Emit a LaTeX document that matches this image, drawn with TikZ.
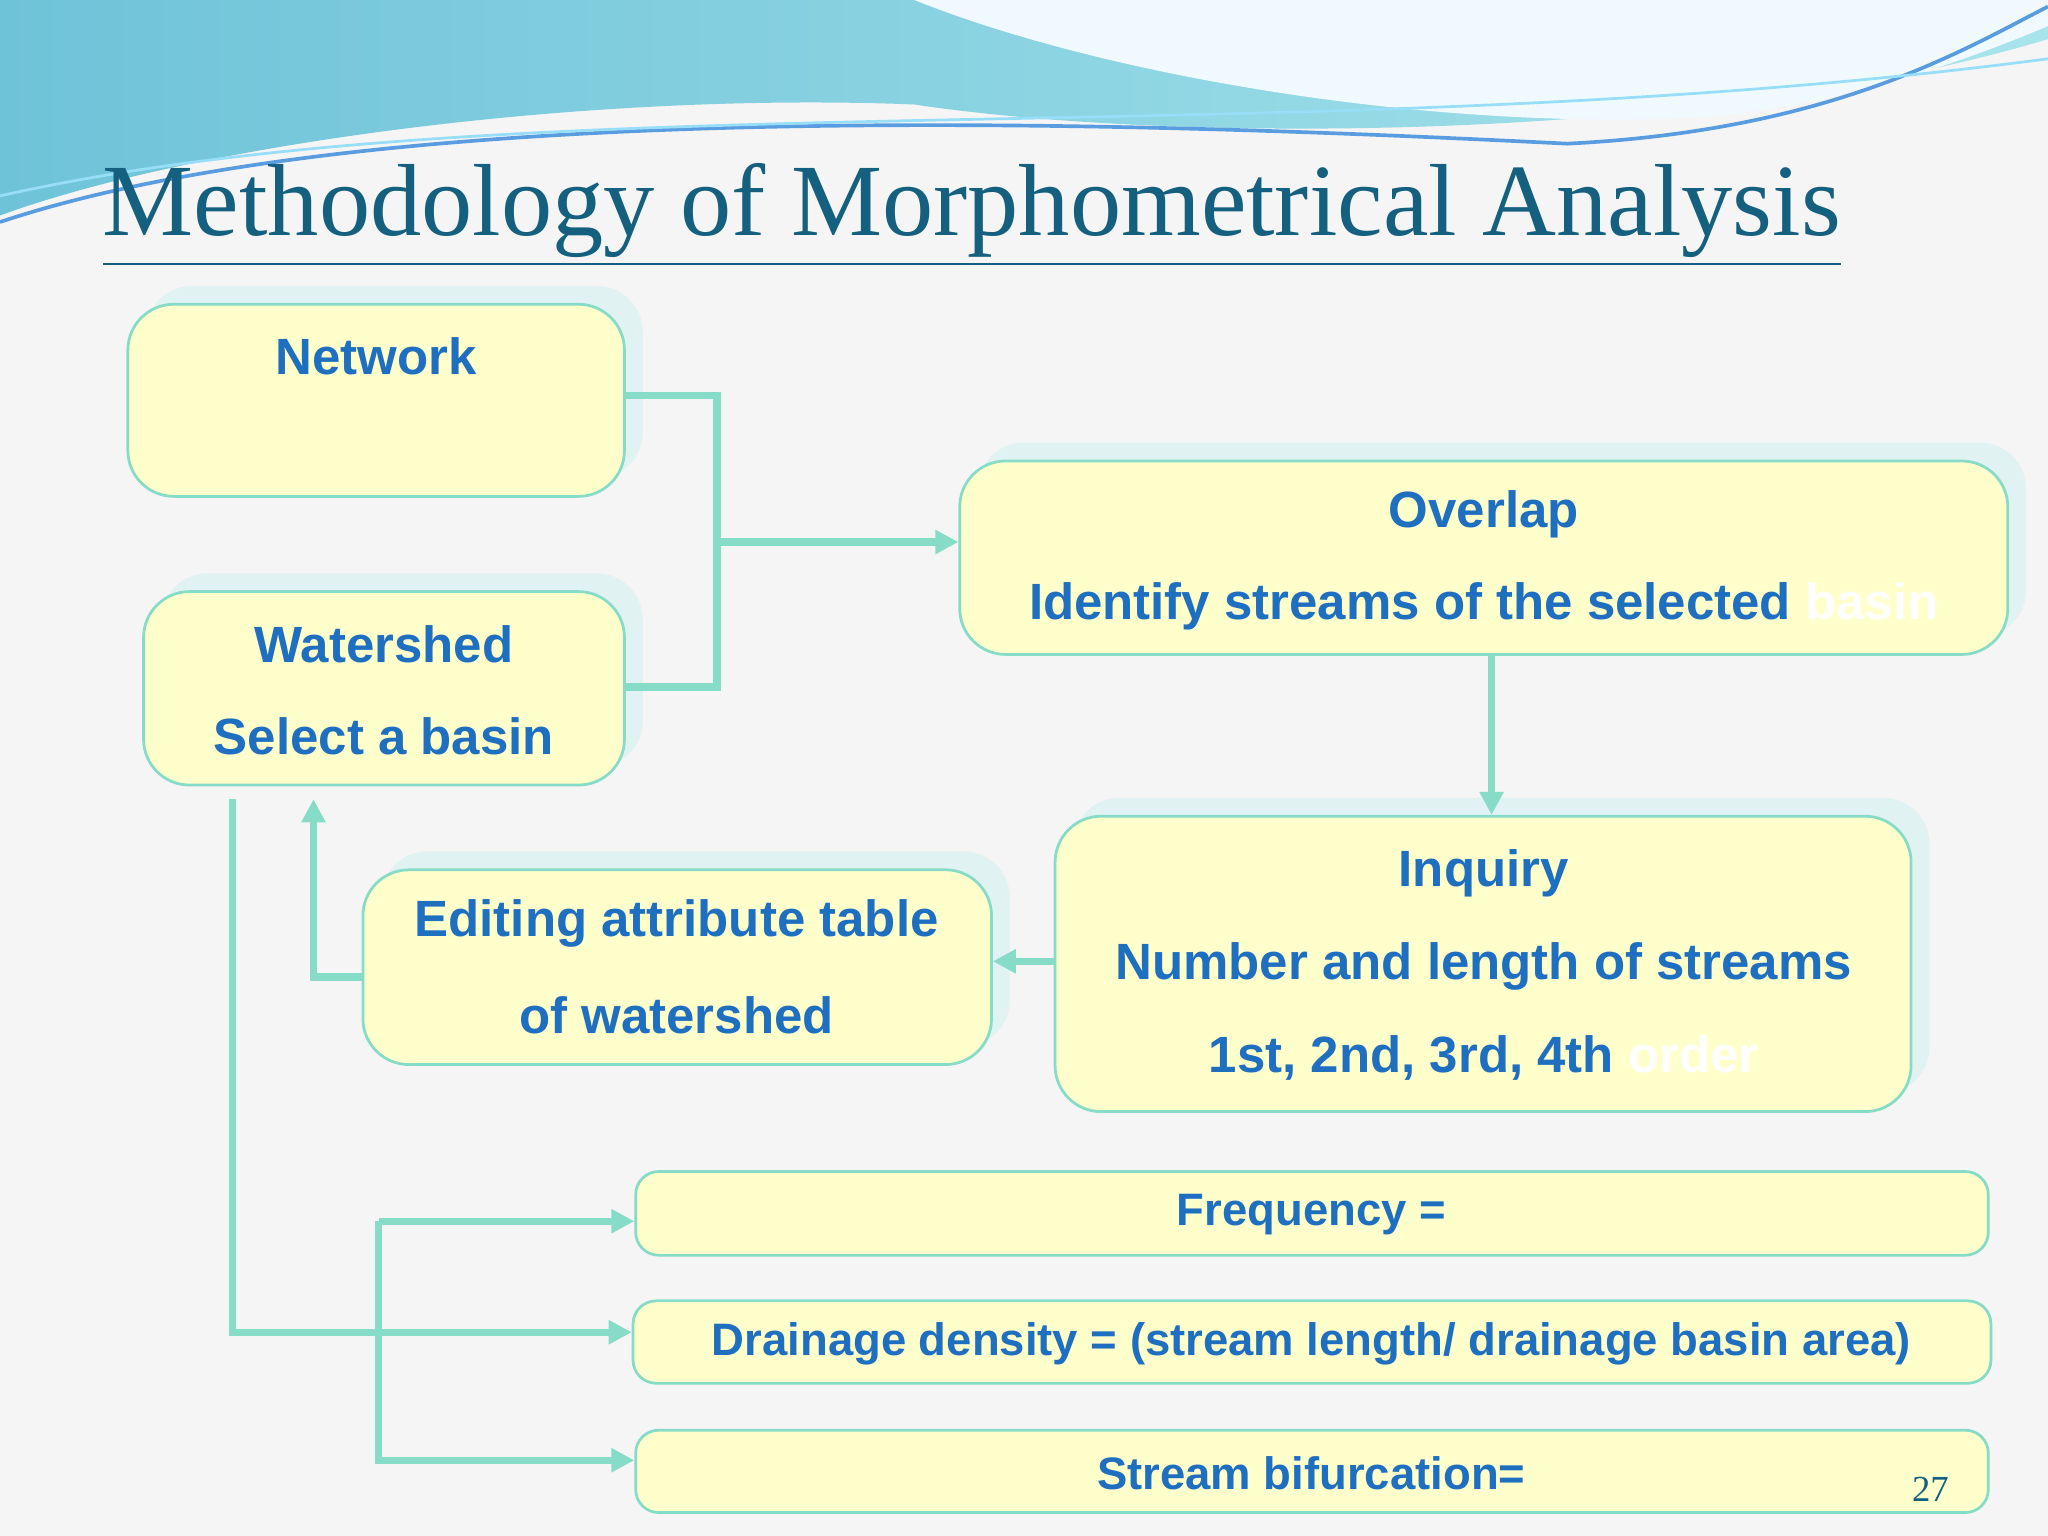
\documentclass[tikz,border=0pt]{standalone}
\usepackage{fontspec}
\setmainfont{Liberation Serif}
\newfontfamily\boxfont{Liberation Sans}
\usetikzlibrary{shadows,arrows.meta}
\definecolor{bx}{HTML}{FFFFCC}
\definecolor{bd}{HTML}{86DCC6}
\definecolor{tx}{HTML}{1F6FC0}
\definecolor{tt}{HTML}{15607E}
\definecolor{sh}{HTML}{E0F2F2}
\definecolor{wv1}{HTML}{6FC3D8}
\definecolor{wv2}{HTML}{A8E4EC}
\tikzset{
 box/.style={draw=bd,fill=bx,rounded corners=10pt,line width=0.6pt,inner sep=0pt,
   copy shadow={shadow xshift=0.14cm,shadow yshift=0.14cm,fill=sh,draw=none}},
 sbox/.style={draw=bd,fill=bx,rounded corners=5pt,line width=0.6pt,inner sep=0pt},
 lab/.style={font=\boxfont\bfseries\fontsize{11.1}{13}\selectfont,text=tx},
 slab/.style={font=\boxfont\bfseries\fontsize{9.9}{11}\selectfont,text=tx},
 con/.style={draw=bd,line width=1.6pt},
 arr/.style={con,-{Triangle[length=5pt,width=5pt]}}
}
\begin{document}
\begin{tikzpicture}[x=0.01cm,y=-0.01cm]
\fill[black!4] (0,0) rectangle (1568,1176);
\useasboundingbox (0,0) rectangle (1568,1176);
% header waves
\shade[left color=wv1,right color=wv2] (0,0) -- (1568,0) -- (1568,30) .. controls (1300,110) and (900,110) .. (700,80) .. controls (450,70) and (150,110) .. (0,165) -- cycle;
\fill[white!60!cyan!15] (700,0) .. controls (850,60) and (1100,100) .. (1300,90) .. controls (1420,80) and (1520,40) .. (1568,20) -- (1568,0) -- cycle;
\draw[wv1!80!blue,line width=0.8pt] (0,170) .. controls (300,70) and (900,95) .. (1200,110) .. controls (1400,100) and (1500,40) .. (1568,5);
\draw[cyan!40,line width=0.6pt] (0,150) .. controls (400,60) and (1000,120) .. (1568,45);
% title
\node[anchor=base west,inner sep=0pt,text=tt,font=\fontsize{22.3}{25}\selectfont] (title) at (78,180) {\underline{Methodology of Morphometrical Analysis}};
% boxes
\node[box,minimum width=3.8cm,minimum height=1.47cm] (net) at (288,306.5) {};
\node[box,minimum width=3.68cm,minimum height=1.48cm] (ws) at (294,527) {};
\node[box,minimum width=8.02cm,minimum height=1.48cm] (ov) at (1136,427) {};
\node[box,minimum width=6.55cm,minimum height=2.26cm] (inq) at (1135.5,738) {};
\node[box,minimum width=4.81cm,minimum height=1.49cm] (ed) at (518.5,740.5) {};
\node[sbox,minimum width=10.35cm,minimum height=0.64cm] (fr) at (1004.5,929) {};
\node[sbox,minimum width=10.39cm,minimum height=0.63cm] (dd) at (1004.5,1027.5) {};
\node[sbox,minimum width=10.35cm,minimum height=0.63cm] (sb) at (1004.5,1126.5) {};
% texts
\node[lab] (t1) at (288,273) {Network};
\node[lab] (t2) at (294,493) {Watershed};
\node[lab] (t3) at (294,564) {Select a basin};
\node[lab] (t4) at (1136,394) {Overlap};
\node[lab] (t5) at (1136,464) {Identify streams of the selected \textcolor{white}{basin}};
\node[lab] (t6) at (1136,669) {Inquiry};
\node[lab] (t7) at (1136,740) {Number and length of streams};
\node[lab] (t8) at (1136,810) {1st, 2nd, 3rd, 4th \textcolor{white}{order}};
\node[lab] (t9) at (518,707) {Editing attribute table};
\node[lab] (t10) at (518,777) {of watershed};
\node[slab] (t11) at (1004,930) {Frequency =};
\node[slab] (t12) at (1004,1029) {Drainage density = (stream length/ drainage basin area)};
\node[slab] (t13) at (1004,1128) {Stream bifurcation=};
\node[text=tt,font=\fontsize{8}{9}\selectfont] (pg) at (1478,1140) {27};
% connectors
\coordinate (j1) at (549,303);
\coordinate (j2) at (549,526);
\coordinate (j3) at (549,415);
\draw[con] (net.east |- j1) -- (j1) -- (j2) -- (ws.east |- j2);
\draw[arr] (j3) -- (ov.west |- j3);
\draw[arr] (ov.south -| 1142,0) -- (inq.north -| 1142,0);
\coordinate (e1) at (240,748);
\draw[arr] (inq.west |- 0,736) -- (ed.east |- 0,736);
\draw[arr] (ed.west |- e1) -- (e1) -- (240,612);
\coordinate (w1) at (178,612);
\coordinate (w2) at (178,1020);
\draw[arr] (w1) -- (w2) -- (dd.west |- w2);
\coordinate (f1) at (290,935);
\coordinate (f2) at (290,1118);
\draw[arr] (f1) -- (fr.west |- f1);
\draw[arr] (f1) -- (f2) -- (sb.west |- f2);
\end{tikzpicture}
\end{document}
